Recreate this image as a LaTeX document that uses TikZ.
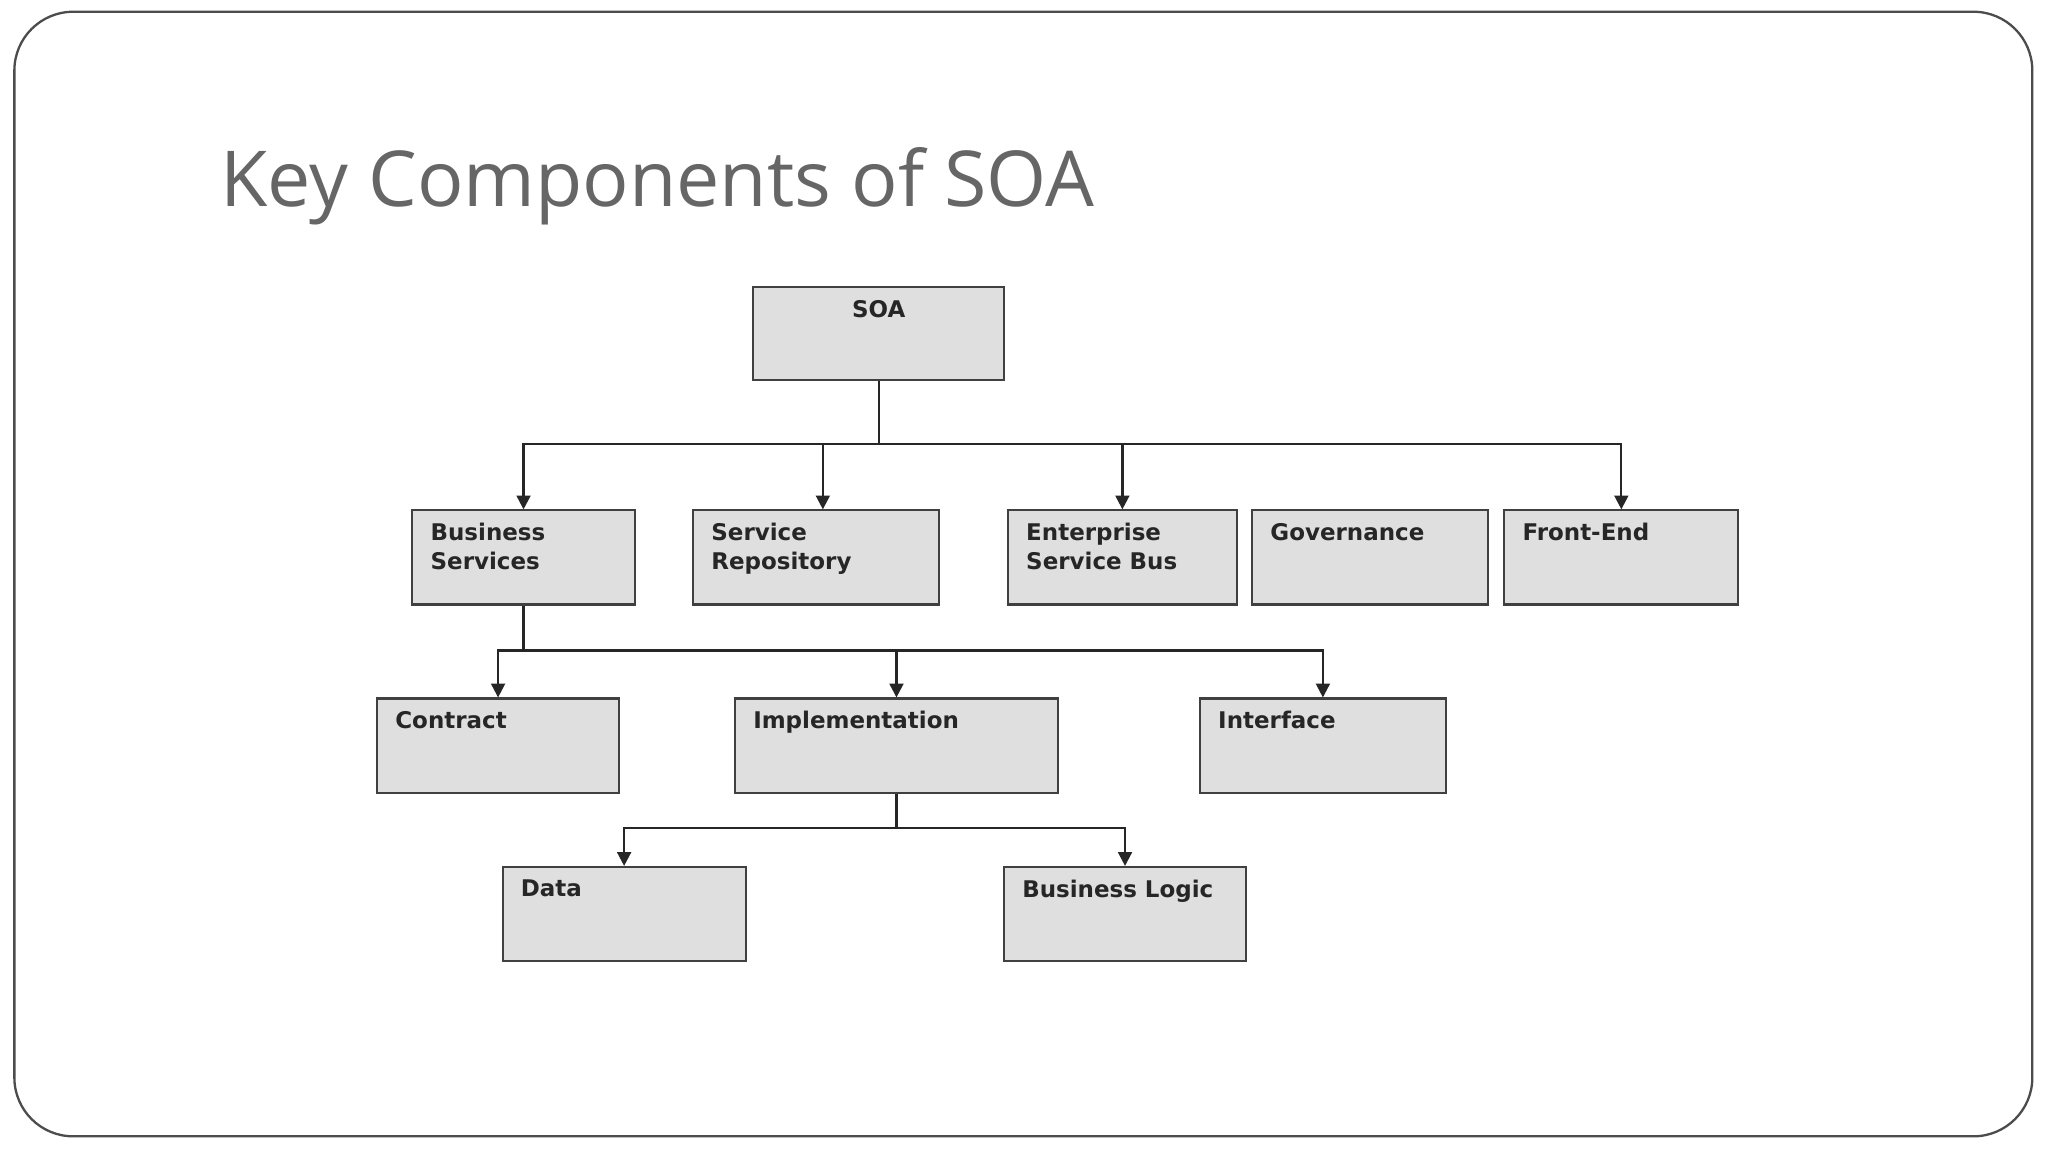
\documentclass[tikz,border=0pt]{standalone}
\usepackage{fontspec}
\setmainfont{DejaVu Sans}
\newfontfamily\titlefont{Open Sans}
\usetikzlibrary{arrows.meta}
\definecolor{boxfill}{HTML}{E0DFE0}
\definecolor{boxline}{HTML}{404040}
\definecolor{titlegray}{HTML}{666666}
\tikzset{
  box/.style={draw=boxline, line width=0.45pt, fill=boxfill, anchor=north west, inner sep=0pt},
  lbl/.style={anchor=north west, inner sep=0pt, align=left, font=\bfseries\fontsize{5.0}{6.3}\selectfont, text=black!85},
  conn/.style={draw=black!85, line width=0.5pt},
  arr/.style={conn, -{Triangle[length=3pt,width=3pt]}}
}
\begin{document}
\begin{tikzpicture}[x=0.01cm,y=-0.01cm]
\useasboundingbox (0,0) rectangle (1568,882);
\fill[white] (0,0) rectangle (1568,882);
\draw[black!70, line width=0.5pt, rounded corners=0.45cm] (11,9) rectangle (1556,870);
\node[anchor=base west, inner sep=0pt, font=\titlefont\fontsize{16.8}{20}\selectfont, text=titlegray] (title) at (168,158) {Key Components of SOA};
% boxes
\node[box, minimum width=1.92cm, minimum height=0.71cm] (soa) at (576,219) {};
\node[box, minimum width=1.70cm, minimum height=0.72cm] (bs) at (315,390) {};
\node[box, minimum width=1.88cm, minimum height=0.72cm] (sr) at (530,390) {};
\node[box, minimum width=1.75cm, minimum height=0.72cm] (esb) at (771,390) {};
\node[box, minimum width=1.80cm, minimum height=0.72cm] (gov) at (958,390) {};
\node[box, minimum width=1.79cm, minimum height=0.72cm] (fe) at (1151,390) {};
\node[box, minimum width=1.85cm, minimum height=0.72cm] (con) at (288,534) {};
\node[box, minimum width=2.47cm, minimum height=0.72cm] (imp) at (562,534) {};
\node[box, minimum width=1.88cm, minimum height=0.72cm] (int) at (918,534) {};
\node[box, minimum width=1.86cm, minimum height=0.72cm] (data) at (384,663) {};
\node[box, minimum width=1.85cm, minimum height=0.72cm] (bl) at (768,663) {};
% labels
\node[lbl, anchor=north] (soat) at ([yshift=-0.1cm]soa.north) {SOA};
\node[lbl] (bst) at ([shift={(0.14cm,-0.1cm)}]bs.north west) {Business\\Services};
\node[lbl] (srt) at ([shift={(0.14cm,-0.1cm)}]sr.north west) {Service\\Repository};
\node[lbl] (esbt) at ([shift={(0.14cm,-0.1cm)}]esb.north west) {Enterprise\\Service Bus};
\node[lbl] (govt) at ([shift={(0.14cm,-0.1cm)}]gov.north west) {Governance};
\node[lbl] (fet) at ([shift={(0.14cm,-0.1cm)}]fe.north west) {Front-End};
\node[lbl] (cont) at ([shift={(0.14cm,-0.1cm)}]con.north west) {Contract};
\node[lbl] (impt) at ([shift={(0.14cm,-0.1cm)}]imp.north west) {Implementation};
\node[lbl] (intt) at ([shift={(0.14cm,-0.1cm)}]int.north west) {Interface};
\node[lbl] (datat) at ([shift={(0.14cm,-0.1cm)}]data.north west) {Data};
\node[lbl] (blt) at ([shift={(0.14cm,-0.1cm)}]bl.north west) {Business Logic};
% connectors
\coordinate (j1) at (soa.south |- 0,340);
\draw[conn] (soa.south) -- (j1);
\draw[arr] (j1) -| (bs.north);
\draw[arr] (j1) -| (630,390) coordinate (srin);
\draw[arr] (j1) -| (esb.north);
\draw[arr] (j1) -| (fe.north);
\coordinate (j2) at (bs.south |- 0,498);
\draw[conn] (bs.south) -- (j2);
\draw[arr] (j2) -| (con.north);
\draw[arr] (j2) -| (imp.north);
\draw[arr] (j2) -| (int.north);
\coordinate (j3) at (imp.south |- 0,634);
\draw[conn] (imp.south) -- (j3);
\draw[arr] (j3) -| (data.north);
\draw[arr] (j3) -| (bl.north);
\end{tikzpicture}
\end{document}
